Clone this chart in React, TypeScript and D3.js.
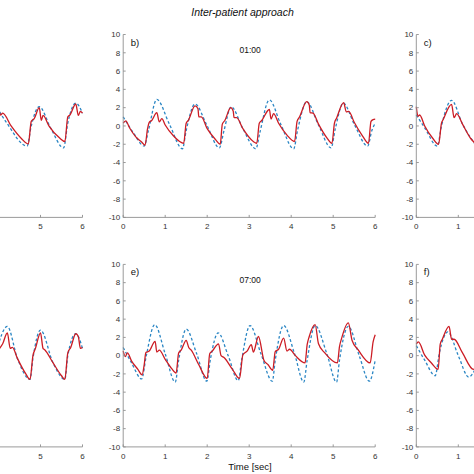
import React from "react";
import * as d3 from "d3";

// ---- Data (time in sec, amplitude) ----
const xTicks = [0, 1, 2, 3, 4, 5, 6];
const yTicks = [-10, -8, -6, -4, -2, 0, 2, 4, 6, 8, 10];

// a) (only right part visible)
const aRedT = [3.92, 4.0, 4.05, 4.1, 4.3, 4.55, 4.71, 4.78, 4.85, 4.97, 5.02, 5.06, 5.2, 5.45, 5.58, 5.65, 5.7, 5.84, 5.9, 5.95, 6.0];
const aRedV = [2.3, 1.9, 1.2, 1.4, 0.0, -1.4, -1.97, 0.5, 0.8, 2.0, 0.6, 1.15, 0.0, -1.3, -1.7, 1.0, 1.2, 2.4, 1.15, 1.6, 1.4];
const aBlueT = [3.9, 4.2, 4.68, 4.78, 4.97, 5.25, 5.55, 5.65, 5.84, 6.0];
const aBlueV = [2.5, 0.3, -2.2, 0.0, 2.1, -0.3, -2.4, 0.3, 2.5, 1.4];

// b) 01:00
const bRedT = [0.0, 0.06, 0.15, 0.3, 0.45, 0.52, 0.58, 0.62, 0.68, 0.8, 0.86, 0.92, 1.0, 1.2, 1.38, 1.44, 1.5, 1.55, 1.71, 1.78, 1.8, 1.86, 2.0, 2.2, 2.31, 2.36, 2.42, 2.56, 2.62, 2.64, 2.7, 2.85, 3.05, 3.18, 3.24, 3.3, 3.48, 3.52, 3.58, 3.7, 3.9, 4.08, 4.14, 4.2, 4.37, 4.43, 4.45, 4.52, 4.65, 4.85, 4.97, 5.03, 5.08, 5.25, 5.31, 5.37, 5.5, 5.7, 5.84, 5.9, 5.95, 6.0];
const bRedV = [0.3, 0.55, -0.2, -1.2, -1.8, -2.1, -0.3, 0.4, 0.6, 1.45, 0.45, 0.8, 0.1, -1.1, -1.8, -1.9, 0.3, 0.6, 2.2, 1.9, 1.0, 1.0, -0.3, -1.5, -2.0, 0.2, 0.6, 2.0, 1.6, 0.9, 0.9, -0.3, -1.5, -1.9, 0.3, 0.6, 1.8, 0.75, 1.35, 0.3, -1.0, -1.7, 0.5, 1.0, 2.65, 2.3, 1.45, 1.4, 0.2, -1.3, -1.9, 0.3, 0.85, 2.55, 1.55, 1.6, 0.4, -1.1, -1.9, 0.5, 0.7, 0.75];
const bBlueT = [0.0, 0.25, 0.5, 0.6, 0.8, 1.1, 1.41, 1.5, 1.71, 2.0, 2.29, 2.4, 2.57, 2.85, 3.16, 3.25, 3.48, 3.75, 4.06, 4.15, 4.37, 4.65, 4.95, 5.05, 5.24, 5.5, 5.82, 5.92, 6.0];
const bBlueV = [1.0, -0.8, -2.2, -0.5, 2.9, 0.2, -2.5, -0.5, 2.4, 0.0, -2.4, -0.5, 2.1, -0.3, -2.5, -0.8, 2.85, 0.2, -2.5, -0.5, 2.65, 0.1, -2.4, -0.3, 2.5, 0.2, -2.2, -0.5, 0.3];

// c) (only left part visible)
const cRedT = [0.0, 0.04, 0.08, 0.2, 0.4, 0.53, 0.6, 0.64, 0.84, 0.9, 0.96, 1.1, 1.3, 1.4];
const cRedV = [2.1, 1.05, 1.2, 0.0, -1.4, -2.0, 0.3, 0.7, 2.35, 0.9, 1.35, 0.2, -1.4, -1.9];
const cBlueT = [0.0, 0.2, 0.5, 0.6, 0.84, 1.1, 1.4];
const cBlueV = [1.2, -0.2, -2.2, 0.0, 2.8, 0.2, -2.0];

// d) (only right part visible)
const dRedT = [3.95, 4.0, 4.1, 4.21, 4.28, 4.33, 4.45, 4.65, 4.75, 4.82, 4.88, 5.0, 5.06, 5.1, 5.3, 5.5, 5.58, 5.65, 5.72, 5.84, 5.9, 5.95, 6.0];
const dRedV = [0.4, 0.65, 1.3, 2.5, 0.8, 0.9, -0.3, -2.0, -2.6, 0.0, 0.8, 2.5, 0.8, 0.65, -0.8, -2.2, -2.6, 0.3, 0.9, 2.4, 2.1, 0.8, 0.9];
const dBlueT = [3.95, 4.21, 4.45, 4.75, 4.82, 5.0, 5.3, 5.58, 5.65, 5.84, 6.0];
const dBlueV = [0.5, 3.2, -0.3, -2.6, -0.3, 2.8, -0.8, -2.6, 0.0, 2.4, 0.8];

// e) 07:00
const eRedT = [0.0, 0.05, 0.1, 0.2, 0.35, 0.45, 0.5, 0.54, 0.62, 0.76, 0.8, 0.86, 1.0, 1.15, 1.26, 1.32, 1.38, 1.5, 1.56, 1.62, 1.8, 2.0, 2.06, 2.12, 2.27, 2.33, 2.4, 2.6, 2.77, 2.85, 2.95, 3.05, 3.1, 3.22, 3.35, 3.45, 3.56, 3.62, 3.7, 3.82, 3.9, 3.96, 4.1, 4.33, 4.38, 4.43, 4.57, 4.65, 4.8, 5.1, 5.15, 5.2, 5.36, 5.45, 5.6, 5.88, 5.95, 6.0];
const eRedV = [0.5, -0.1, 0.3, -0.6, -1.5, -2.1, -1.0, 0.35, 0.5, 1.57, 0.4, 0.6, -0.4, -1.4, -1.9, 0.3, 0.6, 1.68, 0.9, 0.6, -1.0, -2.5, 0.2, 0.5, 1.3, 0.0, -0.2, -1.5, -2.5, 0.1, 0.5, 1.2, 0.4, 2.1, -0.5, -1.0, -1.6, 0.45, 0.7, 1.93, 0.5, 0.7, 0.0, -0.8, 1.2, 2.1, 3.4, 1.3, 0.3, -0.8, 1.0, 1.9, 3.6, 1.66, 0.6, -0.8, 1.5, 2.3];
const eBlueT = [0.0, 0.2, 0.44, 0.55, 0.75, 1.0, 1.24, 1.32, 1.5, 1.75, 1.99, 2.08, 2.26, 2.5, 2.74, 2.82, 3.02, 3.28, 3.55, 3.62, 3.82, 4.08, 4.3, 4.38, 4.57, 4.85, 5.08, 5.15, 5.36, 5.62, 5.86, 6.0];
const eBlueV = [0.9, -0.8, -2.55, 0.0, 3.4, 0.2, -2.9, -0.5, 2.9, 0.2, -2.8, -0.3, 2.5, 0.0, -2.75, -0.5, 3.3, 0.2, -2.8, -0.5, 3.3, 0.2, -2.9, -0.5, 3.3, 0.2, -2.9, -0.5, 3.2, 0.0, -2.8, -0.5];

// f) (only left part visible)
const fRedT = [0.0, 0.05, 0.2, 0.36, 0.52, 0.57, 0.62, 0.78, 0.84, 0.9, 1.1, 1.36, 1.4];
const fRedV = [1.27, 1.5, 0.05, -0.8, -1.5, 1.27, 1.8, 3.2, 1.8, 1.8, 0.3, -1.5, -1.4];
const fBlueT = [0.0, 0.2, 0.45, 0.55, 0.75, 1.0, 1.25, 1.4];
const fBlueV = [1.1, -0.5, -2.2, 0.3, 2.6, 0.0, -2.35, -1.5];

const panelLetters = ["a)", "b)", "c)", "d)", "e)", "f)"];
const panelTimes = ["", "01:00", "", "", "07:00", ""];

const series = [
  { rt: aRedT, rv: aRedV, bt: aBlueT, bv: aBlueV },
  { rt: bRedT, rv: bRedV, bt: bBlueT, bv: bBlueV },
  { rt: cRedT, rv: cRedV, bt: cBlueT, bv: cBlueV },
  { rt: dRedT, rv: dRedV, bt: dBlueT, bv: dBlueV },
  { rt: eRedT, rv: eRedV, bt: eBlueT, bv: eBlueV },
  { rt: fRedT, rv: fRedV, bt: fBlueT, bv: fBlueV },
];

const colX0 = [-169.5, 123.2, 416.3];
const rowY = [
  [34.5, 217.4],
  [264.4, 446.9],
];
const PW = 252;
const W = 474;

const AXIS = "#8f8f8f";
const TXT = "#333";
const RED = "#cc1c24";
const BLUE = "#2a86c4";
const FONT = "Liberation Sans, Arial, Helvetica, sans-serif";

const visible = (px: number, half: number) => px - half >= 0 && px + half <= W;

function Panel({ idx }: { idx: number }) {
  const col = idx % 3;
  const row = Math.floor(idx / 3);
  const x0 = colX0[col];
  const [yTop, yBot] = rowY[row];
  const x = d3.scaleLinear().domain([0, 6]).range([x0, x0 + PW]);
  const y = d3.scaleLinear().domain([-10, 10]).range([yBot, yTop]);
  const s = series[idx];
  const line = d3
    .line<[number, number]>()
    .x((d) => x(d[0]))
    .y((d) => y(d[1]))
    .curve(d3.curveMonotoneX);
  const red = line(s.rt.map((t, i) => [t, s.rv[i]] as [number, number])) || "";
  const blue = line(s.bt.map((t, i) => [t, s.bv[i]] as [number, number])) || "";
  const xEnd = Math.min(x0 + PW, W);
  const xStart = Math.max(x0, 0);
  return (
    <g>
      <path d={blue} fill="none" stroke={BLUE} strokeWidth={1.3} strokeDasharray="2.8,2.2" />
      <path d={red} fill="none" stroke={RED} strokeWidth={1.3} />
      {/* axes */}
      <line x1={xStart} x2={xEnd} y1={yBot} y2={yBot} stroke={AXIS} strokeWidth={0.9} />
      {x0 >= 0 && <line x1={x0} x2={x0} y1={yTop} y2={yBot} stroke={AXIS} strokeWidth={0.9} />}
      {xTicks
        .filter((t) => x(t) >= 0 && x(t) <= W)
        .map((t) => (
          <g key={"x" + t}>
            <line x1={x(t)} x2={x(t)} y1={yBot} y2={yBot - 2.5} stroke={AXIS} strokeWidth={0.9} />
            {visible(x(t), 4) && (
              <text x={x(t)} y={yBot + 12} textAnchor="middle" fontSize={8} fill={TXT} fontFamily={FONT}>
                {t}
              </text>
            )}
          </g>
        ))}
      {x0 >= 0 &&
        yTicks.map((v) => (
          <g key={"y" + v}>
            <line x1={x0} x2={x0 + 2.5} y1={y(v)} y2={y(v)} stroke={AXIS} strokeWidth={0.9} />
            <text x={x0 - 3} y={y(v) + 2.8} textAnchor="end" fontSize={8} fill={TXT} fontFamily={FONT}>
              {v}
            </text>
          </g>
        ))}
      {x0 >= 0 && (
        <text x={x0 + 7.5} y={yTop + (row === 0 ? 11.5 : 10.5)} fontSize={9.5} fill="#111" fontFamily={FONT}>
          {panelLetters[idx]}
        </text>
      )}
      {panelTimes[idx] && (
        <text x={x0 + 127} y={yTop + 18.5} textAnchor="middle" fontSize={8.5} fill="#111" fontFamily={FONT}>
          {panelTimes[idx]}
        </text>
      )}
    </g>
  );
}

export default function App() {
  return (
    <svg width={W} height={W} style={{ position: "absolute", left: 0, top: 0, background: "#fff" }}>
      <rect x={0} y={0} width={W} height={W} fill="#fff" />
      <text x={242.5} y={16} textAnchor="middle" fontSize={10.5} fontStyle="italic" fill="#111" fontFamily={FONT}>
        Inter-patient approach
      </text>
      {[0, 1, 2, 3, 4, 5].map((i) => (
        <Panel key={i} idx={i} />
      ))}
      <text x={250} y={470} textAnchor="middle" fontSize={9.5} fill="#111" fontFamily={FONT}>
        Time [sec]
      </text>
    </svg>
  );
}
